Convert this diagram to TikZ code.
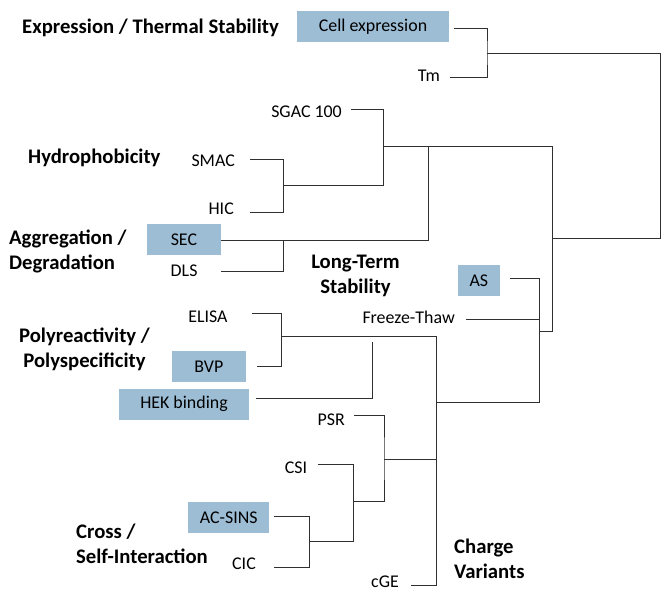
\documentclass[tikz,border=0pt]{standalone}
\usepackage{fontspec}
\setmainfont{Carlito}
\definecolor{boxblue}{HTML}{9DBDD5}
\definecolor{linec}{HTML}{303030}
\begin{document}
\begin{tikzpicture}[x=1pt,y=-1pt,
  ln/.style={draw=linec,line width=0.95pt},
  reg/.style={font=\fontsize{17.9}{21}\selectfont,inner sep=0pt,anchor=base east},
  bld/.style={font=\fontsize{20.7}{25}\selectfont\bfseries,inner sep=0pt},
  bx/.style={fill=boxblue,inner sep=0pt,minimum height=31pt,font=\fontsize{17.9}{21}\selectfont}]
\useasboundingbox (0,0) rectangle (671,599);
% bold category labels
\node[bld,anchor=base west] (expr) at (22,33.6) {Expression / Thermal Stability};
\node[bld,anchor=base west] (hydro) at (28,163.6) {Hydrophobicity};
\node[bld,anchor=west,align=left] (agg) at (9,251) {Aggregation /\\Degradation};
\node[bld,align=center] (lts) at (355.5,276) {Long-Term\\Stability};
\node[bld,align=center] (poly) at (84.5,349) {Polyreactivity /\\Polyspecificity};
\node[bld,anchor=west,align=left] (cross) at (76,544) {Cross /\\Self-Interaction};
\node[bld,anchor=west,align=left] (charge) at (454,558.5) {Charge\\Variants};
% boxes
\node[bx,minimum width=152pt] (cell) at (373,26.5) {Cell expression};
\node[bx,minimum width=74.3pt] (sec) at (183.9,239.4) {SEC};
\node[bx,minimum width=42.3pt] (as) at (478.9,280.5) {AS};
\node[bx,minimum width=74.3pt] (bvp) at (208.9,366.4) {BVP};
\node[bx,minimum width=129.4pt] (hek) at (184,404) {HEK binding};
\node[bx,minimum width=81pt] (acs) at (228.8,517.8) {AC-SINS};
% plain labels
\node[reg] (tm) at (440,82) {Tm};
\node[reg] (sgac) at (342,117.4) {SGAC 100};
\node[reg] (smac) at (235,166.4) {SMAC};
\node[reg] (hic) at (234,214.7) {HIC};
\node[reg] (dls) at (197.7,276.7) {DLS};
\node[reg] (elisa) at (227.7,322.4) {ELISA};
\node[reg] (ft) at (455,323.7) {Freeze-Thaw};
\node[reg] (psr) at (345,425.7) {PSR};
\node[reg] (csi) at (307.3,473.7) {CSI};
\node[reg] (cic) at (256,569.7) {CIC};
\node[reg] (cge) at (399,587.7) {cGE};
% connector start points
\coordinate (cellO) at (454,28);
\coordinate (tmO) at (450,77);
\coordinate (sgacO) at (351,109);
\coordinate (smacO) at (250,159);
\coordinate (hicO) at (250,212);
\coordinate (secO) at (221,240.5);
\coordinate (dlsO) at (221,271.7);
\coordinate (asO) at (510,278);
\coordinate (ftO) at (466,319);
\coordinate (elisaO) at (252,313);
\coordinate (bvpO) at (257,366);
\coordinate (hekO) at (256,398.3);
\coordinate (hekT) at (372.3,342);
\coordinate (psrO) at (354.3,415);
\coordinate (csiO) at (318.3,464.3);
\coordinate (acsO) at (274.3,516.7);
\coordinate (cicO) at (274.3,567.3);
\coordinate (cgeO) at (411,585.7);
% junctions
\coordinate (j1) at (487,53);
\coordinate (root) at (660.7,145);
\coordinate (j2) at (552.7,238.3);
\coordinate (j3) at (283.3,185.5);
\coordinate (j4) at (383.3,146.7);
\coordinate (j5) at (552.7,146.7);
\coordinate (j6) at (428.3,146.7);
\coordinate (j7) at (283.3,240.5);
\coordinate (j8) at (552.7,331);
\coordinate (j10) at (539,331);
\coordinate (j11) at (539,402);
\coordinate (j12) at (436,402);
\coordinate (j13) at (436,336.5);
\coordinate (j14) at (281.7,336.5);
\coordinate (j15) at (384,459);
\coordinate (j16) at (353.3,501);
\coordinate (j17) at (436,459);
\coordinate (j18) at (309.3,541);
% connectors
\draw[ln] (cellO) -| (j1) |- (tmO);
\draw[ln] (j1) -| (root) |- (j2);
\draw[ln] (smacO) -| (j3) |- (hicO);
\draw[ln] (j3) -| (j4) |- (sgacO);
\draw[ln] (j4) -- (j5);
\draw[ln] (j6) |- (secO);
\draw[ln] (dlsO) -| (j7);
\draw[ln] (j5) -- (j2) -- (j8);
\draw[ln] (asO) -| (j10) -- (j8);
\draw[ln] (ftO) -- (ftO -| j10);
\draw[ln] (j10) -- (j11) -- (j12);
\draw[ln] (elisaO) -| (j14) |- (bvpO);
\draw[ln] (j14) -- (j13) |- (cgeO);
\draw[ln] (hekO) -| (hekT);
\draw[ln] (psrO) -| (j15) |- (j16);
\draw[ln] (j15) -- (j17);
\draw[ln] (csiO) -| (j16) |- (j18);
\draw[ln] (acsO) -| (j18) |- (cicO);
\end{tikzpicture}
\end{document}
